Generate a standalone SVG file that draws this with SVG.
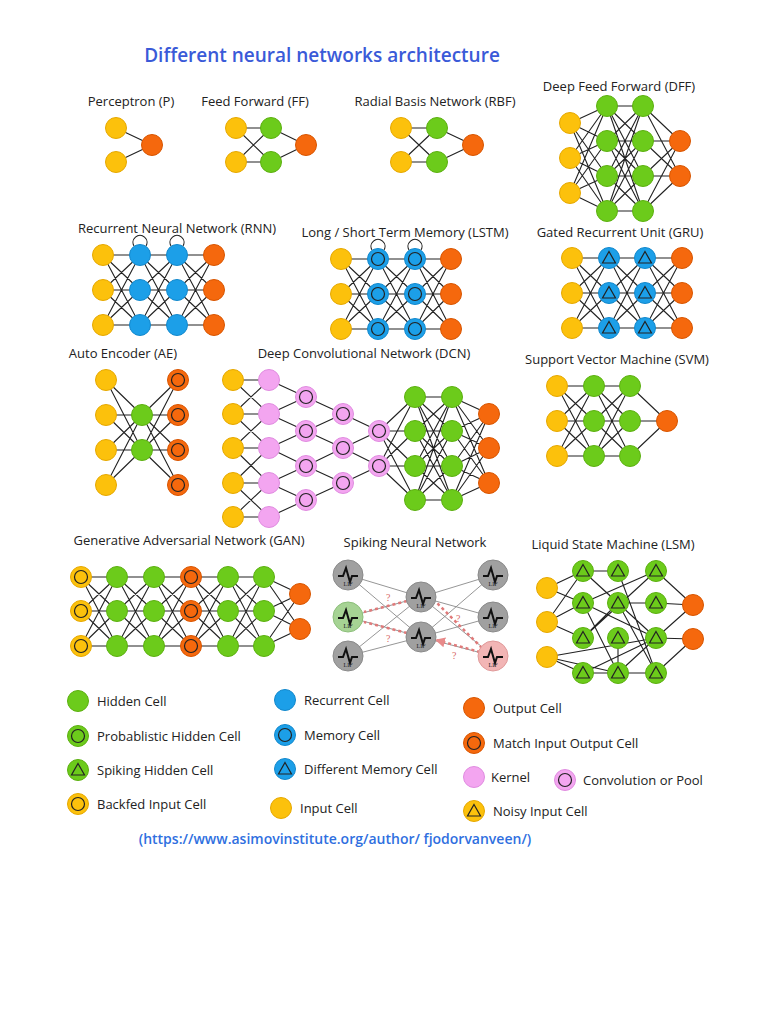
<svg xmlns="http://www.w3.org/2000/svg" xmlns:xlink="http://www.w3.org/1999/xlink" width="768" height="1024" viewBox="0 0 768 1024">
<style>
.t{font-family:"Open Sans","Liberation Sans",sans-serif;font-size:13px;fill:#222;text-anchor:middle}
.lg{font-family:"Open Sans","Liberation Sans",sans-serif;font-size:13px;fill:#222}
.e{fill:none;stroke:#222;stroke-width:1.1}
.in{fill:#fcc10c;stroke:#e6a800}
.hid{fill:#6ccb1b;stroke:#5cb010}
.out{fill:#f5680d;stroke:#d85500}
.rec{fill:#1c9fe8;stroke:#1288cc}
.ker{fill:#f3a5f0;stroke:#e08ce0}
.ring{fill:none;stroke:#222;stroke-width:1.2}
.sp{fill:#a0a0a0;stroke:#8a8a8a}
</style>
<defs>
<polygon id="tri" points="0,-6.5 6.5,5 -6.5,5" fill="none" stroke="#222" stroke-width="1.2"/>
<circle id="I" r="10.5" class="in"/>
<circle id="H" r="10.5" class="hid"/>
<circle id="O" r="10.5" class="out"/>
<circle id="R" r="10.5" class="rec"/>
<circle id="K" r="10.5" class="ker"/>
<g id="M"><circle r="10.5" class="rec"/><circle r="6.5" class="ring"/></g>
<g id="D"><circle r="10.5" class="rec"/><use href="#tri"/></g>
<g id="C"><circle r="10.5" class="ker"/><circle r="6.5" class="ring"/></g>
<g id="HP"><circle r="10.5" class="hid"/><circle r="6.5" class="ring"/></g>
<g id="HS"><circle r="10.5" class="hid"/><use href="#tri"/></g>
<g id="B"><circle r="10.5" class="in"/><circle r="6.5" class="ring"/></g>
<g id="MO"><circle r="10.5" class="out"/><circle r="6.5" class="ring"/></g>
<g id="N"><circle r="10.5" class="in"/><use href="#tri"/></g>
<g id="S"><path d="M-10 1H-5L-2 -7L2 7L4 1H10" fill="none" stroke="#111" stroke-width="2"/><text y="11" font-family="Liberation Serif,serif" font-size="6" text-anchor="middle" fill="#222">LIF</text></g>
<marker id="ar" viewBox="0 0 10 10" refX="9" refY="5" markerWidth="4" markerHeight="4" orient="auto"><path d="M0 0L10 5L0 10z" fill="#e88a8a"/></marker>
</defs>
<rect width="768" height="1024" fill="#fff"/>
<text x="322" y="62" font-family="Open Sans,Liberation Sans,sans-serif" font-size="19" font-weight="600" fill="#3a5ad8" text-anchor="middle">Different neural networks architecture</text>

<g id="connectors">
<path class="e" d="M116 128L152 145M116 162L152 145"/>
<path class="e" d="M236 128H271M236 128L271 162M236 162L271 128M236 162H271M271 128L306 145M271 162L306 145"/>
<path class="e" d="M401 128H437M401 128L437 162M401 162L437 128M401 162H437M437 128L473 145M437 162L473 145"/>
<path class="e" d="M570 123L607 106M570 123L607 141M570 123L607 176M570 123L607 211M570 158L607 106M570 158L607 141M570 158L607 176M570 158L607 211M570 193L607 106M570 193L607 141M570 193L607 176M570 193L607 211
M607 106L643 106M607 106L643 141M607 106L643 176M607 106L643 211M607 141L643 106M607 141L643 141M607 141L643 176M607 141L643 211M607 176L643 106M607 176L643 141M607 176L643 176M607 176L643 211M607 211L643 106M607 211L643 141M607 211L643 176M607 211L643 211
M643 106L680 141M643 106L680 176M643 141L680 141M643 141L680 176M643 176L680 141M643 176L680 176M643 211L680 141M643 211L680 176"/>
<path class="e" d="M103 255L140 255M103 255L140 290M103 255L140 325M103 290L140 255M103 290L140 290M103 290L140 325M103 325L140 255M103 325L140 290M103 325L140 325
M140 255L177 255M140 255L177 290M140 255L177 325M140 290L177 255M140 290L177 290M140 290L177 325M140 325L177 255M140 325L177 290M140 325L177 325
M177 255L214 255M177 255L214 290M177 255L214 325M177 290L214 255M177 290L214 290M177 290L214 325M177 325L214 255M177 325L214 290M177 325L214 325
M134 246A7 7 0 1 1 146 246M171 246A7 7 0 1 1 183 246"/>
<path class="e" d="M341 259L378 259M341 259L378 294M341 259L378 329M341 294L378 259M341 294L378 294M341 294L378 329M341 329L378 259M341 329L378 294M341 329L378 329
M378 259L415 259M378 259L415 294M378 259L415 329M378 294L415 259M378 294L415 294M378 294L415 329M378 329L415 259M378 329L415 294M378 329L415 329
M415 259L451 259M415 259L451 294M415 259L451 329M415 294L451 259M415 294L451 294M415 294L451 329M415 329L451 259M415 329L451 294M415 329L451 329
M372 250A7 7 0 1 1 384 250M409 250A7 7 0 1 1 421 250"/>
<path class="e" d="M572 258L609 258M572 258L609 293M572 258L609 328M572 293L609 258M572 293L609 293M572 293L609 328M572 328L609 258M572 328L609 293M572 328L609 328
M609 258L645 258M609 258L645 293M609 258L645 328M609 293L645 258M609 293L645 293M609 293L645 328M609 328L645 258M609 328L645 293M609 328L645 328
M645 258L682 258M645 258L682 293M645 258L682 328M645 293L682 258M645 293L682 293M645 293L682 328M645 328L682 258M645 328L682 293M645 328L682 328"/>
<path class="e" d="M106 380L142 415M106 380L142 450M106 415L142 415M106 415L142 450M106 450L142 415M106 450L142 450M106 485L142 415M106 485L142 450
M142 415L178 380M142 415L178 415M142 415L178 450M142 415L178 485M142 450L178 380M142 450L178 415M142 450L178 450M142 450L178 485"/>
<path class="e" d="M233 380L269 380M233 380L269 414M233 414L269 380M233 414L269 414M233 414L269 448M233 448L269 414M233 448L269 448M233 448L269 483M233 483L269 448M233 483L269 483M233 483L269 517M233 517L269 483M233 517L269 517
M269 380L306 397M269 414L306 397M269 414L306 431M269 448L306 431M269 448L306 466M269 483L306 466M269 483L306 500M269 517L306 500
M306 397L343 414M306 431L343 414M306 431L343 448M306 466L343 448M306 466L343 483M306 500L343 483
M343 414L379 431M343 448L379 431M343 448L379 466M343 483L379 466
M379 431L415 397M379 431L415 431M379 431L415 466M379 431L415 500M379 466L415 397M379 466L415 431M379 466L415 466M379 466L415 500
M415 397L452 397M415 397L452 431M415 397L452 466M415 397L452 500M415 431L452 397M415 431L452 431M415 431L452 466M415 431L452 500M415 466L452 397M415 466L452 431M415 466L452 466M415 466L452 500M415 500L452 397M415 500L452 431M415 500L452 466M415 500L452 500
M452 397L489 414M452 397L489 448M452 397L489 483M452 431L489 414M452 431L489 448M452 431L489 483M452 466L489 414M452 466L489 448M452 466L489 483M452 500L489 414M452 500L489 448M452 500L489 483"/>
<path class="e" d="M557 386L594 386M557 386L594 421M557 386L594 456M557 421L594 386M557 421L594 421M557 421L594 456M557 456L594 386M557 456L594 421M557 456L594 456
M594 386L630 386M594 386L630 421M594 386L630 456M594 421L630 386M594 421L630 421M594 421L630 456M594 456L630 386M594 456L630 421M594 456L630 456
M630 386L667 421M630 421L667 421M630 456L667 421"/>
<path class="e" d="M81 577L117 577M81 577L117 611M81 577L117 646M81 611L117 577M81 611L117 611M81 611L117 646M81 646L117 577M81 646L117 611M81 646L117 646
M117 577L154 577M117 577L154 611M117 577L154 646M117 611L154 577M117 611L154 611M117 611L154 646M117 646L154 577M117 646L154 611M117 646L154 646
M154 577L191 577M154 577L191 611M154 577L191 646M154 611L191 577M154 611L191 611M154 611L191 646M154 646L191 577M154 646L191 611M154 646L191 646
M191 577L228 577M191 577L228 611M191 577L228 646M191 611L228 577M191 611L228 611M191 611L228 646M191 646L228 577M191 646L228 611M191 646L228 646
M228 577L264 577M228 577L264 611M228 577L264 646M228 611L264 577M228 611L264 611M228 611L264 646M228 646L264 577M228 646L264 611M228 646L264 646
M264 577L300 594M264 577L300 629M264 611L300 594M264 611L300 629M264 646L300 594M264 646L300 629"/>
<path d="M348 575L421 597M348 575L421 637M348 617L421 597M348 617L421 637M348 656L421 597M348 656L421 637M421 597L493 575M421 597L493 617M421 597L493 656M421 637L493 575M421 637L493 617M421 637L493 656" fill="none" stroke="#8a8a8a" stroke-width="0.9"/>
<path d="M407 601L364 612M407 633L364 622M482 648L436 602M480 652L436 640" fill="none" stroke="#e07a7a" stroke-width="2.5" stroke-dasharray="3 3" marker-end="url(#ar)"/>
<path class="e" d="M547 588L583 571M547 588L583 603M547 622L583 571M547 622L583 638M547 622L583 603M547 657L656 638M547 657L618 673M547 657L583 673
M583 571L618 571M583 571L618 603M583 571L656 638M583 603L656 571M583 603L656 638M583 603L618 673M583 638L656 571M583 638L618 603M583 673L618 673M583 673L656 638M618 571L656 673M618 603L656 603M618 603L656 673M618 638L618 673M618 673L656 673M618 673L656 638
M656 571L693 605M656 603L693 605M656 638L693 639M656 638L693 605M656 673L693 639"/>
</g>

<g id="perceptron"><text class="t" x="131" y="106">Perceptron (P)</text><use href="#I" x="116" y="128"/><use href="#I" x="116" y="162"/><use href="#O" x="152" y="145"/></g>
<g id="ff"><text class="t" x="255" y="106">Feed Forward (FF)</text><use href="#I" x="236" y="128"/><use href="#I" x="236" y="162"/><use href="#H" x="271" y="128"/><use href="#H" x="271" y="162"/><use href="#O" x="306" y="145"/></g>
<g id="rbf"><text class="t" x="435" y="106">Radial Basis Network (RBF)</text><use href="#I" x="401" y="128"/><use href="#I" x="401" y="162"/><use href="#H" x="437" y="128"/><use href="#H" x="437" y="162"/><use href="#O" x="473" y="145"/></g>
<g id="dff"><text class="t" x="619" y="91">Deep Feed Forward (DFF)</text>
<use href="#I" x="570" y="123"/><use href="#I" x="570" y="158"/><use href="#I" x="570" y="193"/>
<use href="#H" x="607" y="106"/><use href="#H" x="607" y="141"/><use href="#H" x="607" y="176"/><use href="#H" x="607" y="211"/>
<use href="#H" x="643" y="106"/><use href="#H" x="643" y="141"/><use href="#H" x="643" y="176"/><use href="#H" x="643" y="211"/>
<use href="#O" x="680" y="141"/><use href="#O" x="680" y="176"/></g>
<g id="rnn"><text class="t" x="177" y="233">Recurrent Neural Network (RNN)</text>
<use href="#I" x="103" y="255"/><use href="#I" x="103" y="290"/><use href="#I" x="103" y="325"/>
<use href="#R" x="140" y="255"/><use href="#R" x="140" y="290"/><use href="#R" x="140" y="325"/>
<use href="#R" x="177" y="255"/><use href="#R" x="177" y="290"/><use href="#R" x="177" y="325"/>
<use href="#O" x="214" y="255"/><use href="#O" x="214" y="290"/><use href="#O" x="214" y="325"/></g>
<g id="lstm"><text class="t" x="405" y="237">Long / Short Term Memory (LSTM)</text>
<use href="#I" x="341" y="259"/><use href="#I" x="341" y="294"/><use href="#I" x="341" y="329"/>
<use href="#M" x="378" y="259"/><use href="#M" x="378" y="294"/><use href="#M" x="378" y="329"/>
<use href="#M" x="415" y="259"/><use href="#M" x="415" y="294"/><use href="#M" x="415" y="329"/>
<use href="#O" x="451" y="259"/><use href="#O" x="451" y="294"/><use href="#O" x="451" y="329"/></g>
<g id="gru"><text class="t" x="620" y="237">Gated Recurrent Unit (GRU)</text>
<use href="#I" x="572" y="258"/><use href="#I" x="572" y="293"/><use href="#I" x="572" y="328"/>
<use href="#D" x="609" y="258"/><use href="#D" x="609" y="293"/><use href="#D" x="609" y="328"/>
<use href="#D" x="645" y="258"/><use href="#D" x="645" y="293"/><use href="#D" x="645" y="328"/>
<use href="#O" x="682" y="258"/><use href="#O" x="682" y="293"/><use href="#O" x="682" y="328"/></g>
<g id="ae"><text class="t" x="123" y="358">Auto Encoder (AE)</text>
<use href="#I" x="106" y="380"/><use href="#I" x="106" y="415"/><use href="#I" x="106" y="450"/><use href="#I" x="106" y="485"/>
<use href="#H" x="142" y="415"/><use href="#H" x="142" y="450"/>
<use href="#MO" x="178" y="380"/><use href="#MO" x="178" y="415"/><use href="#MO" x="178" y="450"/><use href="#MO" x="178" y="485"/></g>
<g id="dcn"><text class="t" x="364" y="358">Deep Convolutional Network (DCN)</text>
<use href="#I" x="233" y="380"/><use href="#I" x="233" y="414"/><use href="#I" x="233" y="448"/><use href="#I" x="233" y="483"/><use href="#I" x="233" y="517"/>
<use href="#K" x="269" y="380"/><use href="#K" x="269" y="414"/><use href="#K" x="269" y="448"/><use href="#K" x="269" y="483"/><use href="#K" x="269" y="517"/>
<use href="#C" x="306" y="397"/><use href="#C" x="306" y="431"/><use href="#C" x="306" y="466"/><use href="#C" x="306" y="500"/>
<use href="#C" x="343" y="414"/><use href="#C" x="343" y="448"/><use href="#C" x="343" y="483"/>
<use href="#C" x="379" y="431"/><use href="#C" x="379" y="466"/>
<use href="#H" x="415" y="397"/><use href="#H" x="415" y="431"/><use href="#H" x="415" y="466"/><use href="#H" x="415" y="500"/>
<use href="#H" x="452" y="397"/><use href="#H" x="452" y="431"/><use href="#H" x="452" y="466"/><use href="#H" x="452" y="500"/>
<use href="#O" x="489" y="414"/><use href="#O" x="489" y="448"/><use href="#O" x="489" y="483"/></g>
<g id="svm"><text class="t" x="617" y="364">Support Vector Machine (SVM)</text>
<use href="#I" x="557" y="386"/><use href="#I" x="557" y="421"/><use href="#I" x="557" y="456"/>
<use href="#H" x="594" y="386"/><use href="#H" x="594" y="421"/><use href="#H" x="594" y="456"/>
<use href="#H" x="630" y="386"/><use href="#H" x="630" y="421"/><use href="#H" x="630" y="456"/>
<use href="#O" x="667" y="421"/></g>
<g id="gan"><text class="t" x="189" y="545">Generative Adversarial Network (GAN)</text>
<use href="#B" x="81" y="577"/><use href="#B" x="81" y="611"/><use href="#B" x="81" y="646"/>
<use href="#H" x="117" y="577"/><use href="#H" x="117" y="611"/><use href="#H" x="117" y="646"/>
<use href="#H" x="154" y="577"/><use href="#H" x="154" y="611"/><use href="#H" x="154" y="646"/>
<use href="#MO" x="191" y="577"/><use href="#MO" x="191" y="611"/><use href="#MO" x="191" y="646"/>
<use href="#H" x="228" y="577"/><use href="#H" x="228" y="611"/><use href="#H" x="228" y="646"/>
<use href="#H" x="264" y="577"/><use href="#H" x="264" y="611"/><use href="#H" x="264" y="646"/>
<use href="#O" x="300" y="594"/><use href="#O" x="300" y="629"/></g>
<g id="snn"><text class="t" x="415" y="547">Spiking Neural Network</text>
<circle cx="348" cy="575" r="15" class="sp"/><circle cx="348" cy="617" r="15" fill="#a6d394" stroke="#8cbf7a"/><circle cx="348" cy="656" r="15" class="sp"/>
<circle cx="421" cy="597" r="15" class="sp"/><circle cx="421" cy="637" r="15" class="sp"/>
<circle cx="493" cy="575" r="15" class="sp"/><circle cx="493" cy="617" r="15" class="sp"/><circle cx="493" cy="656" r="15" fill="#f2b5b5" stroke="#e09a9a"/>
<use href="#S" x="348" y="575"/><use href="#S" x="348" y="617"/><use href="#S" x="348" y="656"/><use href="#S" x="421" y="597"/><use href="#S" x="421" y="637"/><use href="#S" x="493" y="575"/><use href="#S" x="493" y="617"/><use href="#S" x="493" y="656"/>
<g font-family="Liberation Serif,serif" font-size="10" fill="#d86a6a"><text x="386" y="601">?</text><text x="386" y="642">?</text><text x="456" y="622">?</text><text x="452" y="659">?</text></g></g>
<g id="lsm"><text class="t" x="613" y="549">Liquid State Machine (LSM)</text>
<use href="#I" x="547" y="588"/><use href="#I" x="547" y="622"/><use href="#I" x="547" y="657"/>
<use href="#HS" x="583" y="571"/><use href="#HS" x="583" y="603"/><use href="#HS" x="583" y="638"/><use href="#HS" x="583" y="673"/>
<use href="#HS" x="618" y="571"/><use href="#HS" x="618" y="603"/><use href="#HS" x="618" y="638"/><use href="#HS" x="618" y="673"/>
<use href="#HS" x="656" y="571"/><use href="#HS" x="656" y="603"/><use href="#HS" x="656" y="638"/><use href="#HS" x="656" y="673"/>
<use href="#O" x="693" y="605"/><use href="#O" x="693" y="639"/></g>

<g id="legend">
<use href="#H" x="78" y="701"/><text class="lg" x="97" y="706">Hidden Cell</text>
<use href="#HP" x="78" y="736"/><text class="lg" x="97" y="741">Probablistic Hidden Cell</text>
<use href="#HS" x="78" y="770"/><text class="lg" x="97" y="775">Spiking Hidden Cell</text>
<use href="#B" x="78" y="804"/><text class="lg" x="97" y="809">Backfed Input Cell</text>
<use href="#R" x="285" y="700"/><text class="lg" x="304" y="705">Recurrent Cell</text>
<use href="#M" x="285" y="735"/><text class="lg" x="304" y="740">Memory Cell</text>
<use href="#D" x="285" y="769"/><text class="lg" x="304" y="774">Different Memory Cell</text>
<use href="#I" x="281" y="808"/><text class="lg" x="300" y="813">Input Cell</text>
<use href="#O" x="474" y="708"/><text class="lg" x="493" y="713">Output Cell</text>
<use href="#MO" x="474" y="743"/><text class="lg" x="493" y="748">Match Input Output Cell</text>
<use href="#K" x="474" y="777"/><text class="lg" x="491" y="782">Kernel</text>
<use href="#C" x="565" y="780"/><text class="lg" x="583" y="785">Convolution or Pool</text>
<use href="#N" x="474" y="811"/><text class="lg" x="493" y="816">Noisy Input Cell</text>
</g>
<text x="335" y="844" font-family="Open Sans,Liberation Sans,sans-serif" font-size="14" font-weight="600" fill="#2f6fe0" text-anchor="middle">(https://www.asimovinstitute.org/author/ fjodorvanveen/)</text>
</svg>
